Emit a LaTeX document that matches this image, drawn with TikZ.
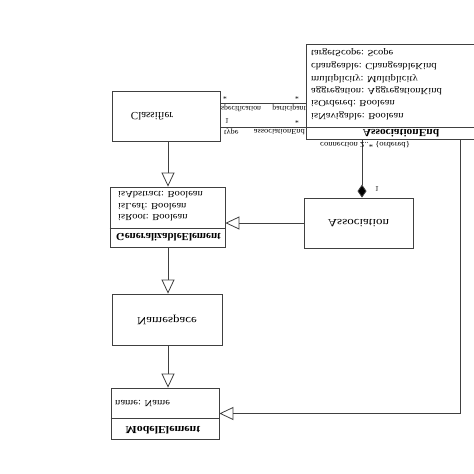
\documentclass[tikz,border=0pt]{standalone}
\usepackage{fontspec}
\setmainfont{Liberation Serif}
\usepackage{graphicx}
\usetikzlibrary{arrows.meta,calc}
\colorlet{linec}{black!75}
\newcommand\fl[2][1]{\scalebox{#1}[-1]{#2}}
\begin{document}
\begin{tikzpicture}[x=1pt,y=-1pt,
  umlbox/.style={draw=linec, line width=0.8pt, inner sep=0pt},
  attr/.style={anchor=west, inner sep=0pt, font=\fontsize{9.3}{10}\selectfont},
  ttl/.style={inner sep=0pt, font=\fontsize{10.8}{12}\selectfont\bfseries},
  nm/.style={inner sep=0pt, font=\fontsize{11}{12}\selectfont},
  lbl/.style={inner sep=0pt, font=\fontsize{7.5}{8}\selectfont},
  gen/.style={draw=linec, line width=0.8pt, -{Triangle[open,length=14pt,width=13pt]}},
  comp/.style={draw=linec, line width=0.8pt, {Diamond[length=13pt,width=9pt,fill=black]}-},
  conn/.style={draw=linec, line width=0.8pt}]
\fill[white] (0,0) rectangle (474,474);
\useasboundingbox (0,0) rectangle (474,474);

% AssociationEnd
\node[umlbox, minimum width=170pt, minimum height=95pt] (aend) at (391,91.5) {};
\draw[conn] ($(aend.south west)+(0,-12)$) -- ($(aend.south east)+(0,-12)$);
\node[attr] (ae1) at (311,53) {\fl[1.14]{targetScope: Scope}};
\node[attr] (ae2) at (311,66) {\fl[1.14]{changeable: ChangeableKind}};
\node[attr] (ae3) at (311,79) {\fl[1.14]{multiplicity: Multiplicity}};
\node[attr] (ae4) at (311,91) {\fl[1.14]{aggregation: AggregationKind}};
\node[attr] (ae5) at (311,104) {\fl[1.14]{isOrdered: Boolean}};
\node[attr] (ae6) at (311,116) {\fl[1.14]{isNavigable: Boolean}};
\node[ttl] (aet) at (401,133) {\fl[1.06]{AssociationEnd}};

% Classifier
\node[umlbox, minimum width=108pt, minimum height=50pt] (classifier) at (166,116) {};
\node[nm] (clt) at (152,116) {\fl[1.0]{Classifier}};

% GeneralizableElement
\node[umlbox, minimum width=115pt, minimum height=60pt] (ge) at (167.5,217) {};
\draw[conn] ($(ge.south west)+(0,-19)$) -- ($(ge.south east)+(0,-19)$);
\node[attr] (ge1) at (118,195) {\fl[1.14]{isAbstract: Boolean}};
\node[attr] (ge2) at (118,207) {\fl[1.14]{isLeaf: Boolean}};
\node[attr] (ge3) at (118,218) {\fl[1.14]{isRoot: Boolean}};
\node[ttl] (get) at (168.5,237) {\fl[1.02]{GeneralizableElement}};

% Association
\node[umlbox, nm, minimum width=109pt, minimum height=50pt] (assoc) at (358.5,223) {\fl[1.18]{Association}};

% Namespace
\node[umlbox, nm, minimum width=110pt, minimum height=51pt] (ns) at (167,319.5) {\fl[1.18]{Namespace}};

% ModelElement
\node[umlbox, minimum width=108pt, minimum height=51pt] (me) at (165,413.5) {};
\draw[conn] ($(me.south west)+(0,-21)$) -- ($(me.south east)+(0,-21)$);
\node[attr] (me1) at (115,403) {\fl[1.14]{name: Name}};
\node[ttl] (met) at (163,430) {\fl[1.1]{ModelElement}};

% helper coordinates
\coordinate (vx) at (168,0);
\coordinate (dx) at (362,0);
\coordinate (rx) at (460,0);
\coordinate (ly1) at (0,103);
\coordinate (ly2) at (0,127);

% connectors
\draw[gen] (classifier.south -| vx) -- (ge.north -| vx);
\draw[gen] (ge.south -| vx) -- (ns.north -| vx);
\draw[gen] (ns.south -| vx) -- (me.north -| vx);
\draw[gen] (assoc.west) -- (assoc.west -| ge.east);
\draw[gen] (aend.south -| rx) |- (me.east);
\draw[comp] (assoc.north -| dx) -- (aend.south -| dx);
\draw[conn] (classifier.east |- ly1) -- (aend.west |- ly1);
\draw[conn] (classifier.east |- ly2) -- (aend.west |- ly2);

% labels
\node[lbl] (m1) at (225,97) {\fl{*}};
\node[lbl] (m2) at (297,97) {\fl{*}};
\node[lbl, anchor=west] (r1) at (221,108) {\fl[1.04]{specification}};
\node[lbl, anchor=east] (r2) at (306,108) {\fl[1.04]{participant}};
\node[lbl] (m3) at (227,121) {\fl{1}};
\node[lbl] (m4) at (297,121) {\fl{*}};
\node[lbl, anchor=west] (r3) at (224,132) {\fl[1.12]{type}};
\node[lbl, anchor=east] (r4) at (305,132) {\fl[1.12]{associationEnd}};
\node[lbl, anchor=west] (r5) at (320,145) {\fl[1.15]{connection 2..* \{ordered\}}};
\node[lbl] (m5) at (377,189) {\fl{1}};
\end{tikzpicture}
\end{document}
